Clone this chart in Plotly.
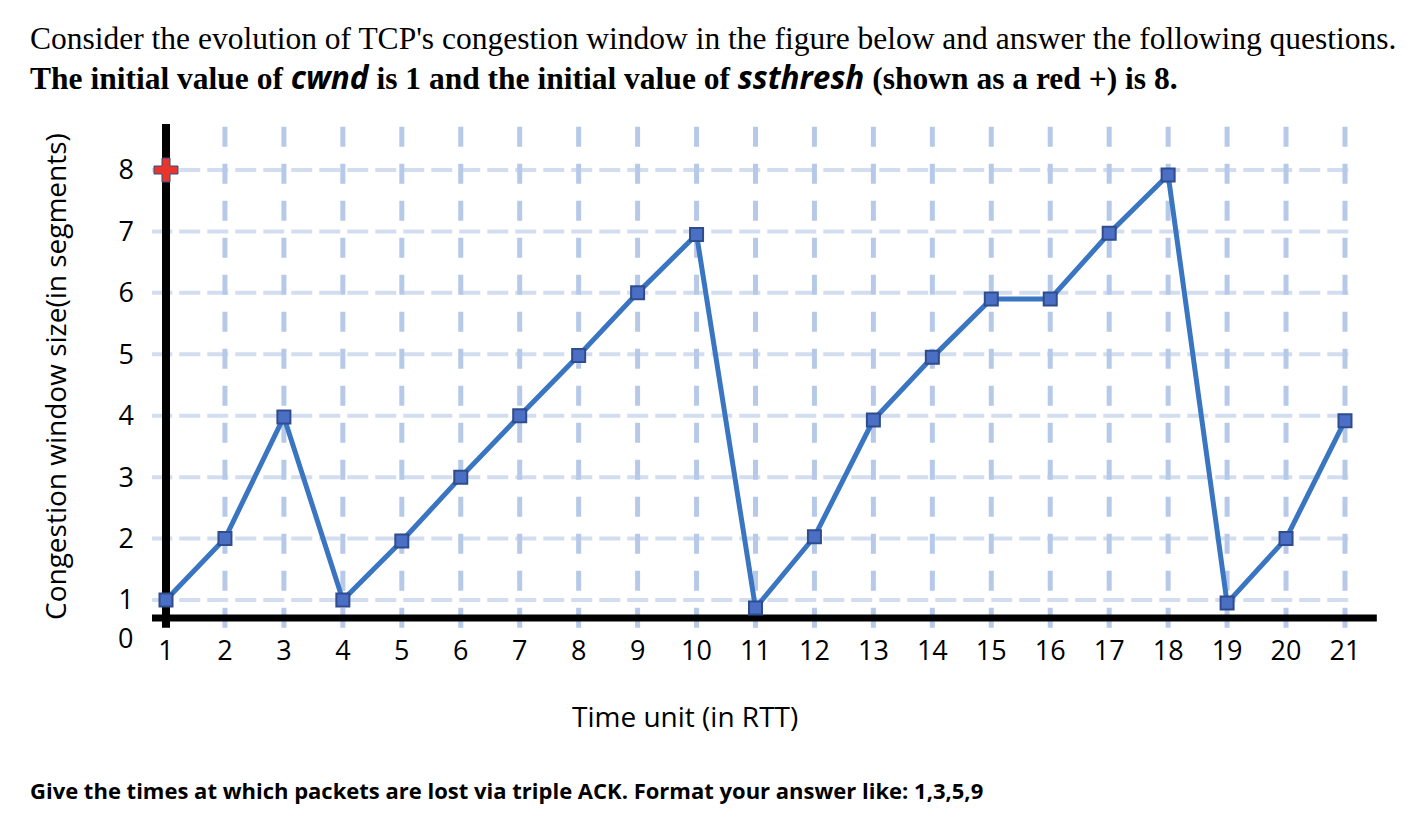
import plotly.graph_objects as go

# ---- data ----
time_rtt = list(range(1, 22))
cwnd = [1, 2, 3.98, 1, 1.96, 3, 4, 4.98, 6, 6.95, 0.87, 2.03, 3.93, 4.95,
        5.9, 5.9, 6.97, 7.92, 0.95, 2.0, 3.92]
ssthresh_time = [1]
ssthresh_value = [8]
x_ticks = list(range(1, 22))
y_ticks = [1, 2, 3, 4, 5, 6, 7, 8]
y_zero_label = "0"

# ---- layout geometry (pixels) ----
W, H = 1424, 818
L, R, T, B = 152, 1378, 124, 632
X_RANGE = [0.7625, 21.56]
Y_RANGE = [0.479, 8.749]


def px(xp):
    return (xp - L) / (R - L)


def py(yp):
    return (B - yp) / (B - T)


fig = go.Figure()

shapes = []
# horizontal dashed grid
for v in y_ticks:
    shapes.append(dict(type="line", xref="x", yref="y", x0=0.75, x1=21.17, y0=v, y1=v,
                       line=dict(color="#D3DDF0", width=4, dash="21px,7px"), layer="below"))
# vertical dashed grid
for v in x_ticks[1:]:
    shapes.append(dict(type="line", xref="x", yref="y", x0=v, x1=v, y0=0.55, y1=8.73,
                       line=dict(color="#B7C9E8", width=5, dash="20px,17px"), layer="below"))
# black axes
shapes.append(dict(type="line", xref="x", yref="y", x0=1, x1=1, y0=0.55, y1=8.75,
                   line=dict(color="black", width=8), layer="below"))
shapes.append(dict(type="line", xref="x", yref="y", x0=0.76, x1=21.54, y0=0.707, y1=0.707,
                   line=dict(color="black", width=7), layer="below"))

fig.add_trace(go.Scatter(
    x=time_rtt, y=cwnd, mode="lines+markers",
    line=dict(color="#3A75C2", width=5),
    marker=dict(symbol="square", size=13, color="#4A6FC4",
                line=dict(color="#2F4D8E", width=2)),
    cliponaxis=False, showlegend=False,
))
fig.add_trace(go.Scatter(
    x=ssthresh_time, y=ssthresh_value, mode="markers",
    marker=dict(symbol="cross", size=20, color="#E8372A",
                line=dict(color="#2F4D8E", width=1)),
    cliponaxis=False, showlegend=False,
))

serif = "Liberation Serif"
sans = "Open Sans"

annotations = [
    dict(text="Consider the evolution of TCP's congestion window in the figure below and answer the following questions.",
         x=px(28), y=py(38), xref="paper", yref="paper", xanchor="left", yanchor="middle",
         showarrow=False, font=dict(family=serif, size=31.5, color="black")),
    dict(text=("<b>The initial value of </b>"
               "<span style='font-family:Open Sans'><b><i>cwnd</i></b></span>"
               "<b> is 1 and the initial value of </b>"
               "<span style='font-family:Open Sans'><b><i>ssthresh</i></b></span>"
               "<b> (shown as a red +) is 8.</b>"),
         x=px(28), y=py(77), xref="paper", yref="paper", xanchor="left", yanchor="middle",
         showarrow=False, font=dict(family=serif, size=31.5, color="black")),
    dict(text="<b>Give the times at which packets are lost via triple ACK. Format your answer like: 1,3,5,9</b>",
         x=px(28), y=py(790), xref="paper", yref="paper", xanchor="left", yanchor="middle",
         showarrow=False, font=dict(family=sans, size=22, color="black")),
    dict(text=y_zero_label, x=px(125), y=py(637), xref="paper", yref="paper",
         xanchor="center", yanchor="middle", showarrow=False,
         font=dict(family=sans, size=27, color="black")),
    dict(text="Time unit (in RTT)", x=px(685), y=py(716), xref="paper", yref="paper",
         xanchor="center", yanchor="middle", showarrow=False,
         font=dict(family=sans, size=28, color="black")),
    dict(text="Congestion window size(in segments)", x=px(55), y=py(377), xref="paper", yref="paper",
         xanchor="center", yanchor="middle", showarrow=False, textangle=-90,
         font=dict(family=sans, size=28, color="black")),
]

fig.update_layout(
    width=W, height=H,
    margin=dict(l=L, r=W - R, t=T, b=H - B, pad=0),
    paper_bgcolor="white", plot_bgcolor="white",
    template="none",
    shapes=shapes,
    annotations=annotations,
    xaxis=dict(range=X_RANGE, tickvals=x_ticks, ticktext=[str(v) for v in x_ticks],
               showgrid=False, zeroline=False, showline=False, ticks="",
               ticklabelstandoff=0, automargin=False,
               tickfont=dict(family=sans, size=27, color="black")),
    yaxis=dict(range=Y_RANGE, tickvals=y_ticks, ticktext=[str(v) for v in y_ticks],
               showgrid=False, zeroline=False, showline=False, ticks="",
               ticklabelstandoff=17, automargin=False,
               tickfont=dict(family=sans, size=27, color="black")),
)

fig.write_html("out.html")
